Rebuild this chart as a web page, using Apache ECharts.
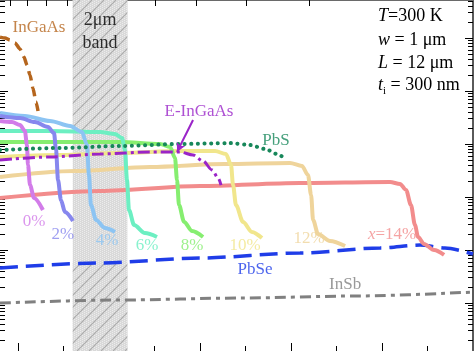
<!DOCTYPE html>
<html><head><meta charset="utf-8">
<script src="https://cdn.jsdelivr.net/npm/echarts@6/dist/echarts.min.js"></script>
<style>html,body{margin:0;padding:0;overflow:hidden;background:#fff;width:474px;height:351px;}
#c{position:absolute;left:-20px;top:-20px;width:514px;height:391px;}</style>
</head><body><div id="c"></div>
<script>
// ---------- data (wavelength in um, detectivity in Jones) ----------
const ingaasWl = [1.400, 1.428, 1.455, 1.483, 1.510, 1.532, 1.548, 1.565, 1.581, 1.598, 1.609];
const ingaasD  = [1.04e13, 1.00e13, 9.17e12, 8.05e12, 6.20e12, 4.38e12, 3.09e12, 2.00e12, 1.14e12, 6.20e11, 4.19e11];

const x0Wl = [1.400, 1.466, 1.510, 1.537, 1.548, 1.554, 1.565, 1.587, 1.636];
const x0D  = [2.72e11, 2.60e11, 2.28e11, 1.76e11, 9.58e10, 4.02e10, 1.68e10, 9.58e9, 5.69e9];
const x2Wl = [1.400, 1.510, 1.592, 1.664, 1.697, 1.708, 1.719, 1.735, 1.757, 1.801];
const x2D  = [3.38e11, 3.09e11, 2.60e11, 2.09e11, 1.61e11, 7.71e10, 2.09e10, 8.78e9, 5.21e9, 3.53e9];
const x4Wl = [1.400, 1.537, 1.675, 1.785, 1.851, 1.878, 1.889, 1.900, 1.928, 1.977, 2.032];
const x4D  = [3.85e11, 3.38e11, 2.72e11, 2.19e11, 1.68e11, 9.58e10, 2.60e10, 7.07e9, 3.68e9, 2.60e9, 2.19e9];
const x6Wl = [1.400, 1.675, 1.950, 2.032, 2.071, 2.087, 2.098, 2.109, 2.137, 2.197, 2.263];
const x6D  = [1.76e11, 1.76e11, 1.68e11, 1.54e11, 1.30e11, 7.71e10, 2.09e10, 5.69e9, 2.96e9, 2.09e9, 1.76e9];
const x8Wl = [1.400, 1.730, 2.060, 2.280, 2.335, 2.362, 2.373, 2.384, 2.412, 2.456, 2.516];
const x8D  = [1.09e11, 1.09e11, 1.09e11, 1.00e11, 8.78e10, 5.44e10, 2.09e10, 7.07e9, 3.38e9, 2.28e9, 1.76e9];
const x10Wl = [1.400, 1.730, 2.060, 2.390, 2.582, 2.642, 2.670, 2.681, 2.697, 2.736, 2.785, 2.840];
const x10D  = [5.69e10, 6.20e10, 6.76e10, 7.38e10, 7.38e10, 6.48e10, 4.02e10, 1.68e10, 7.07e9, 3.38e9, 2.19e9, 1.68e9];
const x12Wl = [1.400, 1.812, 2.225, 2.637, 2.994, 3.060, 3.093, 3.110, 3.121, 3.148, 3.214, 3.297];
const x12D  = [2.38e10, 3.09e10, 3.68e10, 4.19e10, 4.38e10, 3.85e10, 2.60e10, 1.09e10, 3.68e9, 2.00e9, 1.48e9, 1.19e9];
const x14Wl = [1.400, 1.950, 2.500, 3.049, 3.544, 3.599, 3.632, 3.659, 3.681, 3.698, 3.731, 3.786, 3.841];
const x14D  = [9.58e9, 1.30e10, 1.61e10, 1.84e10, 1.92e10, 1.76e10, 1.36e10, 7.07e9, 2.96e9, 1.76e9, 1.30e9, 1.00e9, 8.05e8];

const pbsWl = [1.400, 1.730, 2.060, 2.390, 2.664, 2.774, 2.857, 2.923, 2.961];
const pbsD  = [7.71e10, 8.41e10, 9.17e10, 1.00e11, 1.04e11, 9.58e10, 8.05e10, 6.48e10, 5.44e10];
const eingaasWl = [1.400, 1.675, 1.950, 2.225, 2.390, 2.461, 2.516, 2.566, 2.599, 2.615];
const eingaasD  = [4.99e10, 5.69e10, 6.48e10, 7.07e10, 7.07e10, 6.20e10, 4.78e10, 3.23e10, 2.28e10, 1.68e10];
const pbseWl = [1.400, 1.950, 2.500, 3.049, 3.489, 3.709, 3.846, 4.000];
const pbseD  = [4.58e8, 5.69e8, 7.07e8, 8.78e8, 1.09e9, 1.24e9, 1.09e9, 8.41e8];
const insbWl = [1.400, 2.060, 2.719, 3.379, 4.000];
const insbD  = [1.00e8, 1.14e8, 1.24e8, 1.36e8, 1.61e8];

const band = [1.8, 2.1];
const arrowFrom = [2.461, 2.84e11];
const arrowTo = [2.373, 7.07e10];

const labelText = ['InGaAs', 'E-InGaAs', 'PbS', 'PbSe', 'InSb', '0%', '2%', '4%', '6%', '8%', '10%', '12%', '{i|x}=14%', '2μm', 'band'];
const labelWl   = [1.614, 2.494, 2.917, 2.802, 3.297, 1.587, 1.746, 1.988, 2.208, 2.456, 2.747, 3.099, 3.555, 1.950, 1.950];
const labelD    = [1.61e13, 4.02e11, 1.14e11, 4.19e8, 2.19e8, 3.38e9, 2.00e9, 1.54e9, 1.19e9, 1.19e9, 1.24e9, 1.68e9, 1.92e9, 2.19e13, 8.05e12];

const xMajorTicks = [1.5, 2.0, 2.5, 3.0, 3.5];
const xMinorTicks = [1.75, 2.25, 2.75, 3.25, 3.75];
const energyTicks = [0.85, 0.80, 0.75, 0.70, 0.65, 0.60, 0.55, 0.50, 0.45, 0.40]; // eV, top axis
const decadeTicks = [1e8, 1e9, 1e10, 1e11, 1e12, 1e13];
const yMin = 1.19e7, yMax = 5.21e13;

// ---------- styles ----------
const C = {
  ingaas: '#b5651d', eingaas: '#9a24c8', pbs: '#17875a', pbse: '#1f3de8', insb: '#808080',
  x0: '#d27ce9', x2: '#8787ee', x4: '#8cc4f3', x6: '#6cefc2', x8: '#86ee70', x10: '#f1e68c', x12: '#efd49b', x14: '#f28c8c'
};
const labelColor = [C.ingaas, C.eingaas, C.pbs, C.pbse, C.insb, C.x0, C.x2, C.x4, C.x6, C.x8, C.x10, C.x12, C.x14, '#000', '#000'];
const FONT = 'Liberation Serif';

function zip(a, b) { return a.map((v, i) => [v, b[i]]); }
const minorTicks = [];
for (let e = 7; e <= 13; e++) for (let k = 2; k <= 9; k++) { const v = k * Math.pow(10, e); if (v > yMin && v < yMax) minorTicks.push(v); }
const topTickWl = energyTicks.map(E => 1.24 / E);

function pattern(hatch) {
  const n = 12;
  const c = document.createElement('canvas'); c.width = n; c.height = n;
  const g = c.getContext('2d');
  g.fillStyle = '#d9d9d9'; g.fillRect(0, 0, n, n);
  g.fillStyle = '#ececec';
  for (let i = 0; i < n; i += 2) for (let j = (i / 2) % 2; j < n; j += 2) g.fillRect(i, j, 1, 1);
  if (hatch) {
    g.strokeStyle = '#ababab'; g.lineWidth = 1.1;
    g.beginPath(); g.moveTo(-1, n + 1); g.lineTo(n + 1, -1);
    g.moveTo(-1, 1); g.lineTo(1, -1); g.moveTo(n - 1, n + 1); g.lineTo(n + 1, n - 1); g.stroke();
  }
  return c;
}

function line(name, wl, d, color, width, type, extra) {
  return Object.assign({
    name, type: 'line', data: zip(wl, d), showSymbol: false, smooth: 0.3, smoothMonotone: 'x',
    lineStyle: { color, width, type, cap: 'butt' }, z: 3, silent: true
  }, extra || {});
}

const chart = echarts.init(document.getElementById('c'), null, { renderer: 'canvas' });
const xBase = { type: 'value', min: 1.4, max: 4.0, axisLabel: { show: false }, splitLine: { show: false } };
const yBase = { type: 'log', logBase: 10, min: yMin, max: yMax, axisLabel: { show: false }, splitLine: { show: false } };
const tk = (len, vals) => ({ show: true, inside: true, length: len, customValues: vals, lineStyle: { color: '#000', width: 1 } });

chart.setOption({
  animation: false,
  backgroundColor: '#fff',
  grid: { left: 20, right: 21, top: 20, bottom: 19, containLabel: false },
  xAxis: [
    Object.assign({}, xBase, { position: 'bottom', axisLine: { show: false, onZero: false }, axisTick: tk(9, xMajorTicks) }),
    Object.assign({}, xBase, { position: 'bottom', axisLine: { show: false, onZero: false }, axisTick: tk(6, xMinorTicks) }),
    Object.assign({}, xBase, { position: 'top', axisLine: { show: true, onZero: false, lineStyle: { color: '#6a6a6a', width: 2 } }, axisTick: tk(6, topTickWl) })
  ],
  yAxis: [
    Object.assign({}, yBase, { position: 'left', axisLine: { show: false, onZero: false }, axisTick: tk(8, decadeTicks) }),
    Object.assign({}, yBase, { position: 'left', axisLine: { show: false, onZero: false }, axisTick: tk(5, minorTicks) }),
    Object.assign({}, yBase, { position: 'right', axisLine: { show: true, onZero: false, lineStyle: { color: '#5a5a5a', width: 2 } }, axisTick: tk(8, decadeTicks) }),
    Object.assign({}, yBase, { position: 'right', axisLine: { show: false, onZero: false }, axisTick: tk(5, minorTicks) })
  ],
  series: [
    { type: 'line', data: [], silent: true, z: 1,
      markArea: { silent: true, data: [
        [{ xAxis: band[0], itemStyle: { color: { image: pattern(false), repeat: 'repeat' } } }, { xAxis: band[1] }],
        [{ xAxis: band[0], yAxis: 1.84e11, itemStyle: { color: { image: pattern(true), repeat: 'repeat' } } }, { xAxis: band[1], yAxis: yMax }],
        [{ xAxis: band[0], yAxis: yMin, itemStyle: { color: { image: pattern(true), repeat: 'repeat' } } }, { xAxis: band[1], yAxis: 5.69e8 }]
      ] } },
    line('InSb', insbWl, insbD, C.insb, 3, [11, 5, 4, 5]),
    line('PbSe', pbseWl, pbseD, C.pbse, 3.5, [18, 8]),
    line('14%', x14Wl, x14D, C.x14, 4, 'solid'),
    line('12%', x12Wl, x12D, C.x12, 4, 'solid'),
    line('10%', x10Wl, x10D, C.x10, 4, 'solid'),
    line('8%', x8Wl, x8D, C.x8, 4, 'solid'),
    line('6%', x6Wl, x6D, C.x6, 4, 'solid'),
    line('4%', x4Wl, x4D, C.x4, 4, 'solid'),
    line('2%', x2Wl, x2D, C.x2, 4, 'solid'),
    line('0%', x0Wl, x0D, C.x0, 4, 'solid'),
    line('PbS', pbsWl, pbsD, C.pbs, 4, [0.1, 6.5], { lineStyle: { color: C.pbs, width: 4, type: [0.1, 6.5], cap: 'round' }, z: 4 }),
    line('E-InGaAs', eingaasWl, eingaasD, C.eingaas, 3, [12, 4, 3, 4], { z: 4,
      markLine: { silent: true, symbol: ['none', 'arrow'], symbolSize: [7, 9], label: { show: false },
        lineStyle: { color: C.eingaas, width: 2, type: 'solid' },
        data: [[{ coord: arrowFrom }, { coord: arrowTo }]] } }),
    line('InGaAs', ingaasWl, ingaasD, C.ingaas, 3.5, [10, 6], { smooth: 0.2 }),
    { type: 'scatter', symbolSize: 0, silent: true, z: 5,
      data: labelText.map((t, i) => ({ value: [labelWl[i], labelD[i]],
        label: { show: true, position: 'inside', formatter: t, color: labelColor[i], fontFamily: FONT, fontSize: i >= 13 ? 18 : 17,
          rich: { i: { fontStyle: 'italic', fontFamily: FONT, fontSize: 17, color: labelColor[i] } } } })) }
  ],
  graphic: [
    { type: 'text', x: 398, y: 36.5, silent: true, style: { text: '{i|T}=300 K', fill: '#000', font: '18px ' + FONT, verticalAlign: 'middle',
      rich: { i: { fontStyle: 'italic', fontFamily: FONT, fontSize: 18 } } } },
    { type: 'text', x: 398, y: 60.5, silent: true, style: { text: '{i|w} = 1 μm', fill: '#000', font: '18px ' + FONT, verticalAlign: 'middle',
      rich: { i: { fontStyle: 'italic', fontFamily: FONT, fontSize: 18 } } } },
    { type: 'text', x: 398, y: 83.5, silent: true, style: { text: '{i|L} = 12 μm', fill: '#000', font: '18px ' + FONT, verticalAlign: 'middle',
      rich: { i: { fontStyle: 'italic', fontFamily: FONT, fontSize: 18 } } } },
    { type: 'text', x: 398, y: 105.5, silent: true, style: { text: '{i|t}{s|i} = 300 nm', fill: '#000', font: '18px ' + FONT, verticalAlign: 'middle',
      rich: { i: { fontStyle: 'italic', fontFamily: FONT, fontSize: 18 }, s: { fontFamily: FONT, fontSize: 11, padding: [12, 0, 0, 0] } } } }
  ]
});
</script></body></html>
